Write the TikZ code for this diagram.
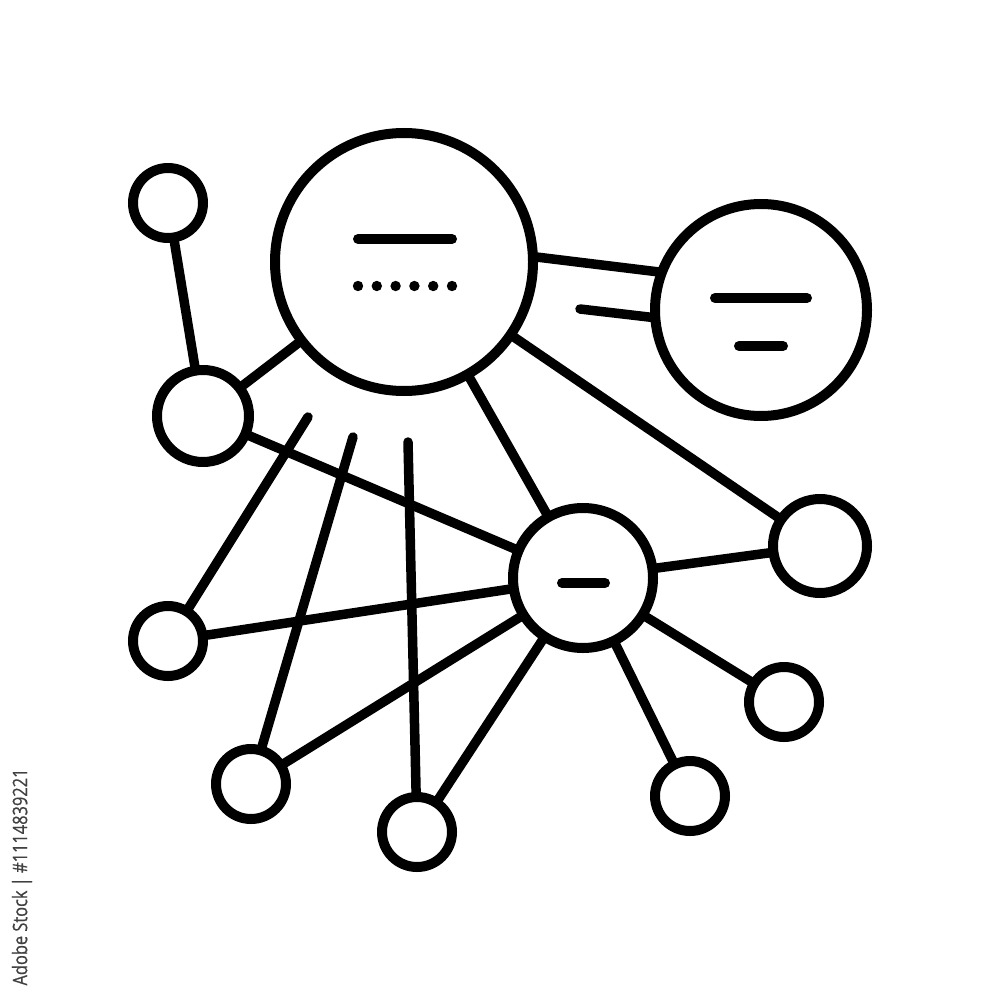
\documentclass[tikz,border=0pt]{standalone}
\usepackage{fontspec}
\usepackage{graphicx}
\newfontfamily\wmfont[FakeBold=0.6]{Open Sans}
\usetikzlibrary{backgrounds}
\begin{document}
\begin{tikzpicture}[x=1pt,y=-1pt,
  hub/.style={circle,draw=black,fill=white,line width=10pt,inner sep=0pt},
  link/.style={draw=black,line width=9.5pt,line cap=round},
  dashmark/.style={draw=black,line width=10pt,line cap=round}]
\useasboundingbox (0,0) rectangle (1000,1000);
% nodes
\node[hub,minimum size=258pt] (A) at (404,262) {};
\node[hub,minimum size=212pt] (D) at (761,310) {};
\node[hub,minimum size=140pt] (F) at (583,578) {};
\node[hub,minimum size=70pt] (B) at (168,203) {};
\node[hub,minimum size=92pt] (C) at (203,416) {};
\node[hub,minimum size=94pt] (E) at (820,546) {};
\node[hub,minimum size=70pt] (G) at (168,641) {};
\node[hub,minimum size=70pt] (H) at (251,784) {};
\node[hub,minimum size=70pt] (I) at (417,832) {};
\node[hub,minimum size=70pt] (J) at (690,796) {};
\node[hub,minimum size=70pt] (K) at (784,702) {};
% free ends
\coordinate (g1) at (308,417);
\coordinate (h1) at (353,437);
\coordinate (i1) at (408,442);
\coordinate (d1) at (580,309);
\coordinate (d1b) at (700,323);
\coordinate (a1a) at (520,255);
\coordinate (a1b) at (700,277);
% connectors behind nodes
\begin{scope}[on background layer]
\draw[link] (B.center) -- (C.center);
\draw[link] (C.center) -- (A.center);
\draw[link] (a1a) -- (a1b);
\draw[link] (d1) -- (d1b);
\draw[link] (A.center) -- (E.center);
\draw[link] (A.center) -- (F.center);
\draw[link] (C.center) -- (F.center);
\draw[link] (F.center) -- (E.center);
\draw[link] (G.center) -- (F.center);
\draw[link] (G.center) -- (g1);
\draw[link] (H.center) -- (h1);
\draw[link] (H.center) -- (F.center);
\draw[link] (I.center) -- (i1);
\draw[link] (I.center) -- (F.center);
\draw[link] (F.center) -- (J.center);
\draw[link] (F.center) -- (K.center);
\end{scope}
% marks inside circles
\draw[dashmark] (358,239) -- (452,239);
\foreach \k in {0,...,5} \fill (358+18.8*\k,286) circle (5.2pt);
\draw[dashmark] (715,298) -- (807,298);
\draw[dashmark] (739,346) -- (783,346);
\draw[dashmark] (562,583) -- (605,583);
% watermark
\node[rotate=90,text=black!75,inner sep=0pt] (wm) at (22,877) {\scalebox{0.82}[1]{\wmfont\fontsize{20}{20}\selectfont Adobe Stock | \#1114839221}};
\end{tikzpicture}
\end{document}
